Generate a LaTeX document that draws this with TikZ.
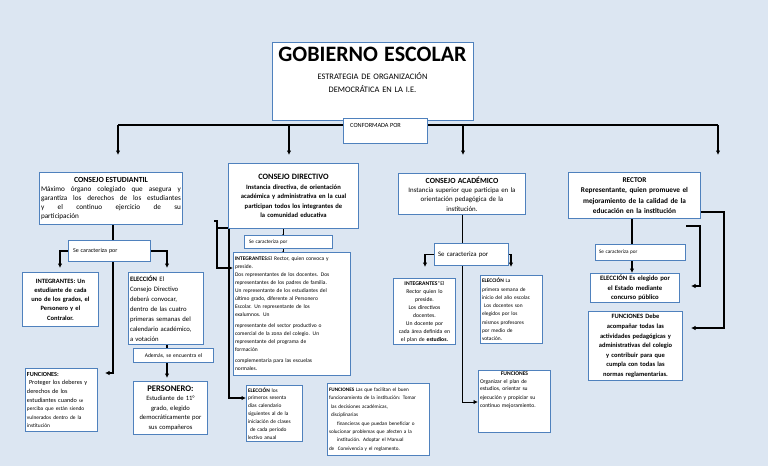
\documentclass[tikz,border=0pt]{standalone}
\usepackage{fontspec}
\setmainfont{Carlito}
\usetikzlibrary{arrows.meta}
\definecolor{bgc}{RGB}{220,230,242}
\definecolor{bbl}{RGB}{79,129,189}
\pgfdeclarelayer{bgl}
\pgfdeclarelayer{lns}
\pgfsetlayers{bgl,lns,main}
\newcommand{\fs}[2]{\fontsize{#1}{#2}\selectfont}
\begin{document}
\begin{tikzpicture}[x=1pt,y=-1pt,
  box/.style={draw=bbl,fill=white,line width=1pt,inner sep=1.5pt,anchor=north west,align=center},
  ln/.style={line width=1.8pt},
  arr/.style={ln,-{Latex[length=4.5pt,width=4.5pt]}},
  tn/.style={line width=0.6pt},
  tarr/.style={line width=0.9pt,-{Latex[length=4.5pt,width=4.5pt]}}]
\begin{pgfonlayer}{bgl}
\fill[bgc] (0,0) rectangle (768,466);
\end{pgfonlayer}
\useasboundingbox (0,0) rectangle (768,466);

% ---------- title ----------
\node[box, minimum width=201, minimum height=78] (title) at (272,42) {};
\node[anchor=north, align=center, inner sep=0, text width=200, font=\fs{8.4}{13}] (titletxt) at (372.5,47) {{\fs{22}{25}\bfseries GOBIERNO\hspace{0.28em}ESCOLAR}\\[5pt] ESTRATEGIA DE ORGANIZACIÓN\\ DEMOCRÁTICA EN LA I.E.};
\node[box, minimum width=84, minimum height=25] (conf) at (343,118) {};
\node[anchor=north west, font=\fs{6.3}{7}, inner sep=0] (conftxt) at (350,123) {CONFORMADA POR};

% ---------- level 1 ----------
\node[box, text width=140, minimum height=52, align=justify, font=\fs{7.2}{9}] (estud) at (39,172)
 {\makebox[\linewidth][c]{\fs{7.8}{9}\bfseries CONSEJO ESTUDIANTIL}\\ Máximo órgano colegiado que asegura y\linebreak garantiza los derechos de los estudiantes\linebreak y el continuo ejercicio de su\linebreak participación};
\node[box, text width=127, minimum height=65, font=\fs{6.6}{9.6}\bfseries] (direct) at (228,163)
 {{\fs{8.2}{10}CONSEJO DIRECTIVO}\\ Instancia directiva, de orientación\\ académica y administrativa en la cual\\ participan todos los integrantes de\\ la comunidad educativa};
\node[box, text width=124, minimum height=41, font=\fs{6.9}{9.2}] (acad) at (398,173)
 {{\fs{7.8}{9}\bfseries CONSEJO ACADÉMICO}\\ Instancia superior que participa en la\\ orientación pedagógica de la\\ institución.};
\node[box, text width=129, minimum height=46, font=\fs{7.3}{10.5}\bfseries] (rector) at (568,172)
 {RECTOR\\ Representante, quien promueve el\\ mejoramiento de la calidad de la\\ educación en la institución};

% ---------- estudiantil ----------
\node[box, text width=79, minimum height=21, align=left, font=\fs{6}{7}] (secE) at (68,240) {\hspace{3pt}Se caracteriza por};
\node[box, text width=73, minimum height=54, font=\fs{6.5}{9.3}\bfseries] (intE) at (22,272)
 {INTEGRANTES: Un\\ estudiante de cada\\ uno de los grados, el\\ Personero y el\\ Contralor.};
\node[box, text width=72, minimum height=72, align=left, font=\fs{6.7}{10}] (elE) at (128,272)
 {\textbf{ELECCIÓN} El\\ Consejo Directivo\\ deberá convocar,\\ dentro de las cuatro\\ primeras semanas del\\ calendario académico,\\ a votación};
\node[box, text width=77, minimum height=14, font=\fs{5.6}{6.5}] (ademas) at (133,348) {Además, se encuentra el};
\node[box, text width=71, minimum height=53, font=\fs{6.6}{9.4}] (pers) at (133,381)
 {{\fs{8.6}{10}\bfseries PERSONERO:}\\ Estudiante de 11°\\ grado, elegido\\ democráticamente por\\ sus compañeros};
\node[box, text width=69, minimum height=63, align=left, font=\fs{6.2}{8.6}] (funE) at (25,368)
 {\textbf{FUNCIONES:}\\ \hspace{2pt}Proteger los deberes y\\ derechos de los\\ estudiantes cuando {\fs{5}{8.6}se}\\ {\fs{5.4}{8.6}perciba que están siendo}\\ {\fs{5.4}{8.6}vulnerados dentro de la}\\ {\fs{5.4}{8.6}institución}};

% ---------- directivo ----------
\node[box, text width=85, minimum height=13, align=left, font=\fs{5.2}{6}] (secD) at (244,235) {\hspace{3pt}Se caracteriza por};
\node[box, text width=114, minimum height=123, align=left, font=\fs{5.5}{8}] (intD) at (233,252)
 {\textbf{INTEGRANTES:}El Rector, quien convoca y\\ preside.\\ Dos representantes de los docentes. Dos\\ representantes de los padres de familia.\\ Un representante de los estudiantes del\\ último grado, diferente al Personero\\ Escolar. Un representante de los\\ exalumnos. Un\\[3pt] representante del sector productivo o\\ comercial de la zona del colegio. Un\\ representante del programa de\\ formación\\[3pt] complementaria para las escuelas\\ normales.};
\node[box, text width=53, minimum height=56, align=left, font=\fs{5.4}{7.9}] (elD) at (246,385)
 {\textbf{ELECCIÓN} los\\ primeros sesenta\\ días calendario\\ siguientes al de la\\ iniciación de clases\\ \hspace{2pt}de cada período\\ lectivo anual};
\node[box, text width=99, minimum height=72, align=left, font=\fs{5.2}{8.4}] (funD) at (327,383)
 {\textbf{FUNCIONES} Las que facilitan el buen\\ funcionamiento de la institución: Tomar\\ \hspace{2pt}las decisiones académicas,\\ \hspace{2pt}disciplinarias\\ \hspace{8pt}financieras que puedan beneficiar o\\ solucionar problemas que afecten a la\\ \hspace{8pt}institución. Adoptar el Manual\\ de \ Convivencia y el reglamento.};

% ---------- academico ----------
\node[box, text width=71, minimum height=22, align=left, font=\fs{6.8}{8}] (secA) at (434,243) {\hspace{2pt}Se caracteriza por};
\node[box, text width=59, minimum height=66, font=\fs{5.7}{8}] (intA) at (393,278)
 {\textbf{INTEGRANTES}*El\\ Rector quien lo\\ preside.\\ *Los directivos\\ docentes.\\ *Un docente por\\ cada área definida en\\ el plan de \textbf{estudios.}};
\node[box, text width=59, minimum height=68, align=left, font=\fs{5.4}{8.3}] (elA) at (480,275)
 {\textbf{ELECCIÓN} La\\ primera semana de\\ inicio del año escolar.\\ \hspace{2pt}Los docentes son\\ elegidos por los\\ mismos profesores\\ por medio de\\ votación.};
\node[box, text width=69, minimum height=55, align=left, font=\fs{5.6}{7.4}] (funA) at (478,370)
 {\makebox[\linewidth][c]{\textbf{FUNCIONES}}\\ Organizar el plan de\\ estudios, orientar su\\[2pt] ejecución y propiciar su\\ continuo mejoramiento.\\[16pt]\mbox{}};

% ---------- rector ----------
\node[box, text width=87, minimum height=16, align=left, font=\fs{5.2}{6}] (secR) at (595,244) {\hspace{2pt}Se caracteriza por};
\node[box, text width=86, minimum height=29, font=\fs{6.7}{9.5}\bfseries] (elR) at (590,273)
 {ELECCIÓN Es elegido por\\ el Estado mediante\\ concurso público};
\node[box, text width=91, minimum height=69, font=\fs{6.5}{9.6}\bfseries] (funR) at (588,311)
 {FUNCIONES Debe\\ acompañar todas las\\ actividades pedagógicas y\\ administrativas del colegio\\ y contribuir para que\\ cumpla con todas las\\ normas reglamentarias.};

% ---------- coordinates ----------
\coordinate (tl) at (372,100);
\coordinate (hL) at (118,125);
\coordinate (h2) at (289,125);
\coordinate (h3) at (463,125);
\coordinate (hR) at (718,125);
\coordinate (a1) at (118,155);
\coordinate (a2) at (289,155);
\coordinate (a3) at (463,155);
\coordinate (a4) at (718,155);
\coordinate (eM) at (113,0);
\coordinate (eF) at (105,373);
\coordinate (eL) at (60,268);
\coordinate (eR) at (167,268);
\coordinate (dA) at (214,221);
\coordinate (dB) at (217,221);
\coordinate (dJ) at (217,228);
\coordinate (dC) at (229,228);
\coordinate (dI) at (233,268);
\coordinate (dE) at (246,398);
\coordinate (dM) at (283,0);
\coordinate (aM) at (462,0);
\coordinate (aF) at (478,402);
\coordinate (aL) at (425,267);
\coordinate (aR) at (511,267);
\coordinate (rM) at (632,0);
\coordinate (r1s) at (686,226);
\coordinate (r1c) at (700,226);
\coordinate (r1e) at (691,286);
\coordinate (r2s) at (700,212);
\coordinate (r2c) at (724,212);
\coordinate (r2e) at (691,328);

\begin{pgfonlayer}{lns}
\draw[ln] (tl) -- (tl |- conf.north);
\draw[ln] (hL) -- (hR);
\draw[arr] (hL) -- (a1);
\draw[arr] (h2) -- (a2);
\draw[arr] (h3) -- (a3);
\draw[arr] (hR) -- (a4);
% estudiantil
\draw[arr] (estud.south -| eM) |- (eF);
\draw[arr] (secE.west) -| (eL);
\draw[arr] (secE.east) -| (eR);
\draw[ln] (elE.south -| eR) -- (ademas.north -| eR);
\draw[arr, shorten >=3pt] (ademas.south -| eR) -- (pers.north -| eR);
% directivo
\draw[arr] (dA) -- (dB) |- (dI);
\draw[arr] (dJ) -- (dC) |- (dE);
\draw[tn] (direct.south -| dM) -- (secD.north -| dM);
\draw[tn] (secD.south -| dM) -- (intD.north -| dM);
\fill (secD.north -| dM) circle (0.9);
\fill (intD.north -| dM) circle (0.9);
% academico
\draw[tarr] (acad.south -| aM) |- (aF);
\draw[arr] (secA.west) -| (aL);
\draw[arr] (secA.east) -| (aR);
% rector
\draw[ln] (rector.south -| rM) -- (secR.north -| rM);
\draw[arr] (secR.south -| rM) -- (elR.north -| rM);
\draw[arr] (r1s) -- (r1c) |- (r1e);
\draw[arr] (r2s) -- (r2c) |- (r2e);
\end{pgfonlayer}
\end{tikzpicture}
\end{document}
